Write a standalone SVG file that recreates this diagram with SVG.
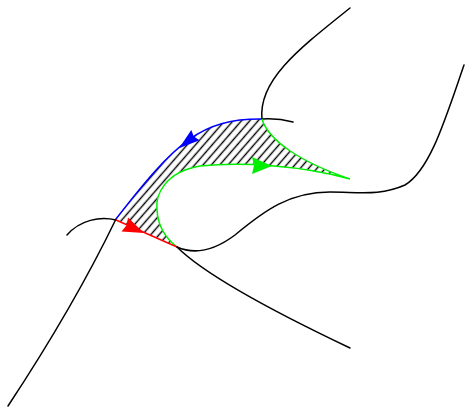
<svg xmlns="http://www.w3.org/2000/svg" width="474" height="416" viewBox="0 0 474 416">
  <style>
    .k { fill: none; stroke: #000; stroke-width: 1.5; stroke-linecap: round; }
    .b { fill: none; stroke: #0000ff; stroke-width: 1.5; }
    .g { fill: none; stroke: #00ee00; stroke-width: 1.5; }
    .r { fill: none; stroke: #ff0000; stroke-width: 1.5; }
  </style>
  <defs>
    <pattern id="hatch" patternUnits="userSpaceOnUse" width="6.3" height="10" patternTransform="rotate(41)">
      <line x1="3.15" y1="-1" x2="3.15" y2="11" stroke="#000" stroke-width="1.4"/>
    </pattern>
  </defs>
  <rect width="474" height="416" fill="#fff"/>
  <g id="lobe">
    <path d="M116,219 C176,141 202,118.5 262,119 C268,140 300,162 350,179 C300,165 240,162 200,166 C165,172 155,195 157,210 C158,228 168,240 177,247 L116,220 Z" fill="url(#hatch)" stroke="none"/>
  </g>
  <g id="curves">
    <path class="k" d="M8,406 Q74,306 116,219"/>
    <path class="b" d="M116,219 C176,141 202,118.5 262,119"/>
    <path class="k" d="M262,119 Q278,118 293,122"/>
    <path class="k" d="M350,8 C300,48 258,80 262,119"/>
    <path class="g" d="M262,119 C268,140 300,162 350,179 C300,165 240,162 200,166 C165,172 155,195 157,210 C158,228 168,240 177,247"/>
    <path class="k" d="M177,247 C205,275 270,310 350,348"/>
    <path class="k" d="M67,235 C80,220 100,216 116,220"/>
    <path class="r" d="M116,220 L177,247"/>
    <path class="k" d="M177,247 C195,255 215,250 235,235 C265,210 290,192 330,192 C360,192 380,196 405,185 C430,170 445,120 464,65"/>
  </g>
  <g id="arrows">
    <polygon points="179,148.2 199.5,140.2 193.8,136.4 191.3,130" fill="#0000ff"/>
    <polygon points="272,166 252,157 254,165.5 252,174" fill="#00ee00"/>
    <polygon points="144,233 121.5,231.5 126.6,225.3 128,217.5" fill="#ff0000"/>
  </g>
</svg>
